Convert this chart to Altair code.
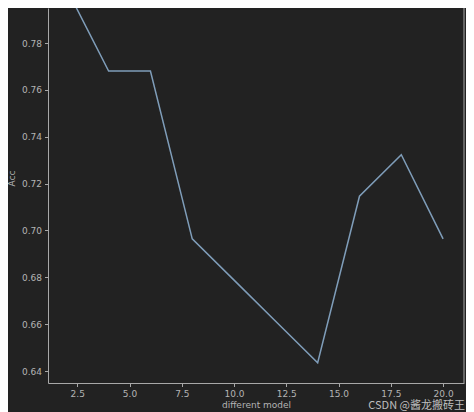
import altair as alt
import pandas as pd

# data
models = [2, 4, 6, 8, 10, 12, 14, 16, 18, 20]
acc = [0.803, 0.768, 0.768, 0.6964, 0.6788, 0.6611, 0.6435, 0.7146, 0.7323, 0.6964]
x_ticks = [2.5, 5.0, 7.5, 10.0, 12.5, 15.0, 17.5, 20.0]
y_ticks = [0.64, 0.66, 0.68, 0.70, 0.72, 0.74, 0.76, 0.78]
watermark = "CSDN @酱龙搬砖王"

BG = "#222222"
AXIS = "#a8a8a8"
TEXT = "#b4b4b4"
LINE = "#7f9db9"
FONT = "DejaVu Sans"

W, H = 416, 375

df = pd.DataFrame({"model": models, "acc": acc})

line = alt.Chart(df).mark_line(color=LINE, strokeWidth=1.5, clip=True).encode(
    x=alt.X(
        "model:Q",
        scale=alt.Scale(domain=[1.1, 21.0], nice=False, zero=False),
        axis=alt.Axis(
            values=x_ticks, format=".1f", title="different model",
            titleY=24, titleBaseline="alphabetic",
        ),
    ),
    y=alt.Y(
        "acc:Q",
        scale=alt.Scale(domain=[0.63488, 0.79494], nice=False, zero=False),
        axis=alt.Axis(
            values=y_ticks, format=".2f", title="Acc",
            titleX=-37, titleY=170, titleBaseline="middle", titleAlign="center",
        ),
    ),
)

one = pd.DataFrame({"a": [0]})
frame = alt.Chart(one).mark_rule(color=AXIS, strokeWidth=1).encode(
    x=alt.value(W), y=alt.value(0), y2=alt.value(H)
)

mark = alt.Chart(one).mark_text(
    text=watermark, align="right", baseline="middle", fontSize=11,
    font="Noto Sans CJK SC", color="#d8d8d8", opacity=0.85,
).encode(x=alt.value(417), y=alt.value(398))

chart = (
    alt.layer(line, frame, mark)
    .properties(
        width=W, height=H, background=BG,
        padding={"left": 40, "top": 0, "right": 2, "bottom": 29},
        autosize=alt.AutoSizeParams(type="none"),
    )
    .configure_view(stroke=None)
    .configure_axis(
        grid=False, domainColor=AXIS, domainWidth=1, tickColor=AXIS,
        tickSize=3.5, tickWidth=1, labelColor=TEXT, labelFont=FONT,
        labelFontSize=9, labelPadding=3, titleColor=TEXT, titleFont=FONT,
        titleFontSize=9, titleFontWeight="normal",
    )
)

chart.save("out.html", embed_options={"renderer": "svg", "actions": False})
